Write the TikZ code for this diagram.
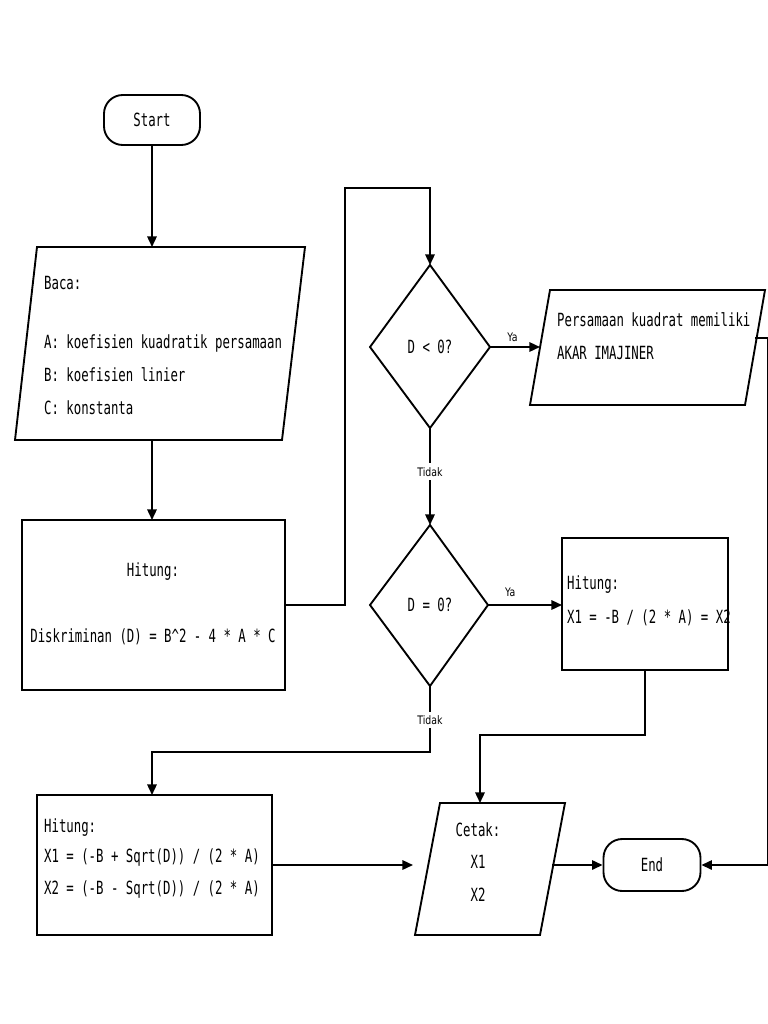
\documentclass[tikz,border=0pt]{standalone}
\usepackage{fontspec}
\setmonofont{DejaVu Sans Mono}[FakeStretch=0.68]
\newfontfamily\lbl{DejaVu Sans}[FakeStretch=0.8]
\usetikzlibrary{arrows.meta}
\begin{document}
\begin{tikzpicture}[x=0.03cm,y=-0.03cm,
  every node/.style={font=\fontsize{15.5}{18}\ttfamily},
  ln/.style={line width=1.6pt},
  ar/.style={ln,-{Triangle[length=9pt,width=8pt]}},
  box/.style={draw,line width=1.6pt},
  lab/.style={font=\lbl\fontsize{10}{12}\selectfont}]
\useasboundingbox (0,0) rectangle (768,1024);
% Start / End
\node[box,rounded corners=16pt,minimum width=96*0.03cm,minimum height=50*0.03cm] (start) at (152,120) {Start};
\node[box,rounded corners=16pt,minimum width=97*0.03cm,minimum height=52*0.03cm] (end) at (652,865) {End};
% Baca parallelogram
\draw[ln] (37,247) -- (305,247) -- (282,440) -- (15,440) -- cycle;
\coordinate (bacaT) at (152,247); \coordinate (bacaB) at (152,440);
\node[anchor=west] (b0) at (40,283) {Baca:};
\node[anchor=west] (b1) at (40,343) {A: koefisien kuadratik persamaan};
\node[anchor=west] (b2) at (40,375) {B: koefisien linier};
\node[anchor=west] (b3) at (40,408) {C: konstanta};
% Hitung D
\node[box,minimum width=263*0.03cm,minimum height=170*0.03cm] (hd) at (153.5,605) {};
\coordinate (hdT) at (152,520);
\node (hd1) at (153,572) {Hitung:};
\node (hd2) at (153,637) {Diskriminan (D) = B\textasciicircum2 - 4 * A * C};
% diamonds
\draw[ln] (430,265) -- (490,347) -- (430,428) -- (370,347) -- cycle;
\coordinate (d1T) at (430,265); \coordinate (d1B) at (430,428); \coordinate (d1R) at (490,347);
\node (d1) at (430,347) {D < 0?};
\draw[ln] (430,525) -- (488,605) -- (430,686) -- (370,605) -- cycle;
\coordinate (d2T) at (430,525); \coordinate (d2B) at (430,686); \coordinate (d2R) at (488,605);
\node (d2) at (430,605) {D = 0?};
% imaginary parallelogram
\draw[ln] (550,290) -- (765,290) -- (745,405) -- (530,405) -- cycle;
\coordinate (imL) at (540,347); \coordinate (imR) at (755,338);
\node[anchor=west] (im1) at (553,320) {Persamaan kuadrat memiliki};
\node[anchor=west] (im2) at (553,353) {AKAR IMAJINER};
% Hitung 2
\node[box,minimum width=166*0.03cm,minimum height=132*0.03cm] (h2) at (645,604) {};
\coordinate (h2L) at (562,605);
\node[anchor=west] (h2a) at (563,585) {Hitung:};
\node[anchor=west] (h2b) at (563,618) {X1 = -B / (2 * A) = X2};
% Hitung 3
\node[box,minimum width=235*0.03cm,minimum height=140*0.03cm] (h3) at (154.5,865) {};
\node[anchor=west] (h3a) at (40,828) {Hitung:};
\node[anchor=west] (h3b) at (40,858) {X1 = (-B + Sqrt(D)) / (2 * A)};
\node[anchor=west] (h3c) at (40,890) {X2 = (-B - Sqrt(D)) / (2 * A)};
% Cetak
\draw[ln] (440,803) -- (565,803) -- (540,935) -- (415,935) -- cycle;
\coordinate (cT) at (480,803); \coordinate (cL) at (413,865); \coordinate (cR) at (552,865);
\node (c1) at (478,830) {Cetak:};
\node (c2) at (478,862) {X1};
\node (c3) at (478,895) {X2};
% connectors
\draw[ar] (start.south) -- (bacaT);
\draw[ar] (bacaB) -- (hdT);
\draw[ar] (hd.east |- 0,605) -- (345,605) -- (345,188) -- (430,188) -- (d1T);
\draw[ar] (d1R) -- (imL) node[lab,pos=0.45,above] {Ya};
\draw[ar] (d1B) -- (d2T) node[lab,pos=0.45,fill=white] {Tidak};
\draw[ar] (d2R) -- (h2L) node[lab,pos=0.3,above=3pt] {Ya};
\draw[ar] (imR) -- (768,338) -- (768,865) -- (end.east);
\draw[ar] (h2.south) -- (645,735) -- (480,735) -- (cT);
\draw[ar] (d2B) -- (430,752) -- (152,752) -- (152,795);
\node[lab,fill=white] (t2) at (430,720) {Tidak};
\draw[ar] (h3.east) -- (cL);
\draw[ar] (cR) -- (end.west);
\end{tikzpicture}
\end{document}
